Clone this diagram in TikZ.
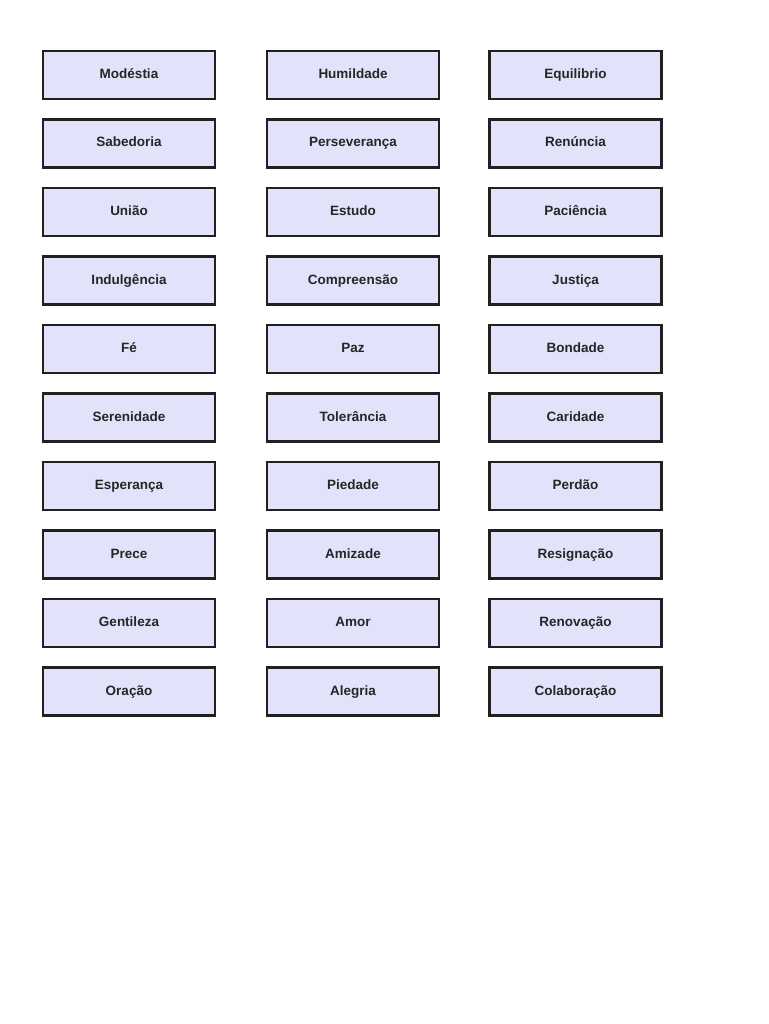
\documentclass[tikz,border=0pt]{standalone}
\usepackage{fontspec}
\setmainfont{Liberation Sans}
\definecolor{boxfill}{HTML}{E2E2FA}
\definecolor{boxline}{HTML}{202020}
\begin{document}
\begin{tikzpicture}[x=1pt,y=-1pt,
  vbox/.style={draw=boxline,line width=2.2pt,fill=boxfill,minimum width=172pt,minimum height=48pt,inner sep=0pt,text height=10pt,text depth=3pt,font=\fontsize{13.5}{15}\selectfont\bfseries,text=black!85}]
\useasboundingbox[fill=white] (0,0) rectangle (768,1024);
\foreach \a/\b/\c [count=\i from 0] in {Modéstia/Humildade/Equilibrio,Sabedoria/Perseverança/Renúncia,União/Estudo/Paciência,Indulgência/Compreensão/Justiça,Fé/Paz/Bondade,Serenidade/Tolerância/Caridade,Esperança/Piedade/Perdão,Prece/Amizade/Resignação,Gentileza/Amor/Renovação,Oração/Alegria/Colaboração}{
  \node[vbox] (a\i) at (129,{75+68.5*\i}) {\a};
  \node[vbox] (b\i) at (353,{75+68.5*\i}) {\b};
  \node[vbox] (c\i) at (575.5,{75+68.5*\i}) {\c};
}
\end{tikzpicture}
\end{document}
